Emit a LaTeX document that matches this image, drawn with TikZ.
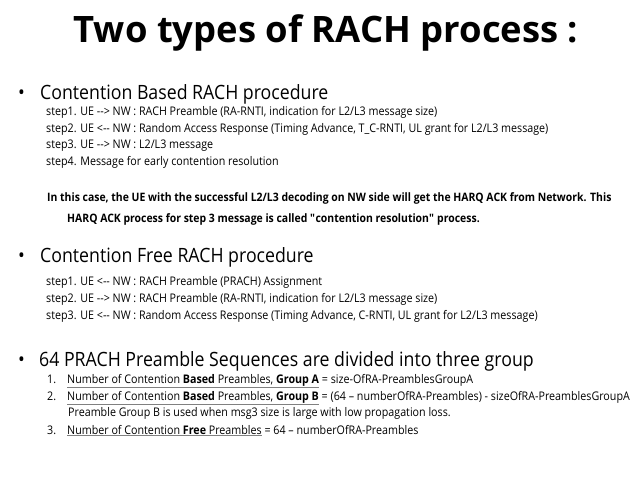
\documentclass[tikz,border=0pt]{standalone}
\usepackage{fontspec}
\setmainfont[FakeStretch=0.9]{Open Sans}
\newfontfamily\titlefont{Open Sans}
\usepackage{xcolor}
\newcommand\myul[1]{{\color{gray}\underline{\color{black}#1}}}
\tikzset{
  titletext/.style={anchor=base, inner sep=0pt, font=\titlefont\bfseries\fontsize{36.4}{40}\selectfont},
  bulletmark/.style={anchor=base west, inner sep=0pt, font=\fontsize{20}{24}\selectfont},
  headtext/.style={anchor=base west, inner sep=0pt, font=\fontsize{19.7}{24}\selectfont},
  bodytext/.style={anchor=base west, inner sep=0pt, font=\fontsize{11.9}{13}\selectfont},
  boldtext/.style={anchor=base west, inner sep=0pt, font=\bfseries\fontsize{11.6}{13}\selectfont},
}
\begin{document}
\begin{tikzpicture}[x=1pt,y=-1pt]
\useasboundingbox[fill=white] (0,0) rectangle (638,479);
\node[titletext] (title) at (326,42) {Two\ types\ of\ RACH\ process\ :};

\node[bulletmark] (b1) at (18,99) {•};
\node[headtext] (h1) at (40,99) {Contention Based RACH procedure};
\node[bodytext] (s11) at (46,115) {step1. UE -{}-> NW : RACH Preamble (RA-RNTI, indication for L2/L3 message size)};
\node[bodytext] (s12) at (46,132) {step2. UE <-{}- NW : Random Access Response (Timing Advance, T\_C-RNTI, UL grant for L2/L3 message)};
\node[bodytext] (s13) at (46,148) {step3. UE -{}-> NW : L2/L3 message};
\node[bodytext] (s14) at (46,165) {step4. Message for early contention resolution};
\node[boldtext] (p1) at (47,201) {In this case, the UE with the successful L2/L3 decoding on NW side will get the HARQ ACK from Network. This};
\node[boldtext] (p2) at (67,222) {HARQ ACK process for step 3 message is called \textquotedbl contention resolution\textquotedbl\ process.};

\node[bulletmark] (b2) at (18,262) {•};
\node[headtext] (h2) at (40,262) {Contention Free RACH procedure};
\node[bodytext] (s21) at (46,285) {step1. UE <-{}- NW : RACH Preamble (PRACH) Assignment};
\node[bodytext] (s22) at (46,302) {step2. UE -{}-> NW : RACH Preamble (RA-RNTI, indication for L2/L3 message size)};
\node[bodytext] (s23) at (46,319) {step3. UE <-{}- NW : Random Access Response (Timing Advance, C-RNTI, UL grant for L2/L3 message)};

\node[bulletmark] (b3) at (18,366) {•};
\node[headtext] (h3) at (39,366) {64 PRACH Preamble Sequences are divided into three group};
\node[bodytext] (n1) at (47,383) {1.};
\node[bodytext] (l1) at (67,383) {\myul{Number of Contention \textbf{Based} Preambles, \textbf{Group A}} = size-OfRA-PreamblesGroupA};
\node[bodytext] (n2) at (47,400) {2.};
\node[bodytext] (l2) at (67,400) {\myul{Number of Contention \textbf{Based} Preambles, \textbf{Group B}} = (64 – numberOfRA-Preambles) - sizeOfRA-PreamblesGroupA};
\node[bodytext] (l2b) at (68,416) {Preamble Group B is used when msg3 size is large with low propagation loss.};
\node[bodytext] (n3) at (47,434) {3.};
\node[bodytext] (l3) at (67,434) {\myul{Number of Contention \textbf{Free} Preambles} = 64 – numberOfRA-Preambles};
\end{tikzpicture}
\end{document}
